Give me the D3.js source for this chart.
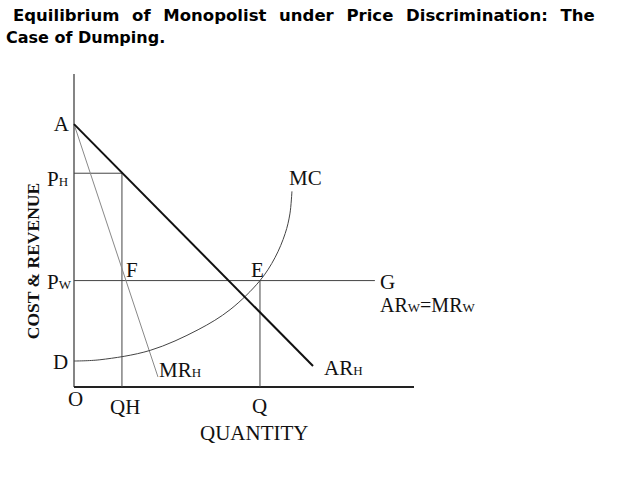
<!DOCTYPE html>
<html>
<head>
<meta charset="utf-8">
<script src="https://cdn.jsdelivr.net/npm/d3@7"></script>
<style>
  body { margin: 0; background: #fff; }
  svg { display: block; }
</style>
</head>
<body>
<script>
// valeurs (unités arbitraires 0..100)
const priceA = 84
const priceH = 68.3
const priceW = 34
const priceD = 8.3
const qtyH = 14.1
const qtyQ = 54.7
const qtyG = 88.5

const arH = [[0, 84], [70.3, 6.7]]
const mrH = [[0, 84], [24.7, 3.2]]
const mc = [[0, 8.3], [7.6, 8.7], [22.4, 11.7], [36.5, 18.3], [45.9, 24.7], [54.7, 34.0], [59.1, 41.3], [62.1, 49.0], [63.5, 55.3], [64.1, 62.5]]

const titleLines = ["Equilibrium of Monopolist under Price Discrimination: The", "Case of Dumping."]

const width = 638, height = 478

let svg = d3.select("body").append("svg")
    .attr("width", width)
    .attr("height", height)

const x = d3.scaleLinear().domain([0, 100]).range([74, 414])
const y = d3.scaleLinear().domain([0, 100]).range([387, 74])

// titre (ligne 1 justifiée -> espaces plus larges)
svg.append("text")
    .attr("font-family", "DejaVu Sans")
    .attr("font-weight", "bold")
    .attr("font-size", 16.5)
    .attr("x", 13).attr("y", 21)
    .attr("word-spacing", 7)
    .text(titleLines[0])
svg.append("text")
    .attr("font-family", "DejaVu Sans")
    .attr("font-weight", "bold")
    .attr("font-size", 16)
    .attr("x", 6).attr("y", 43)
    .text(titleLines[1])

const line = d3.line().x(d => x(d[0])).y(d => y(d[1]))

// axes (sans graduations)
svg.append("line")
    .attr("x1", x(0)).attr("x2", x(0))
    .attr("y1", y(100)).attr("y2", y(0))
    .attr("stroke", "#333").attr("stroke-width", 1.2)
svg.append("line")
    .attr("x1", x(0)).attr("x2", x(100))
    .attr("y1", y(0)).attr("y2", y(0))
    .attr("stroke", "#222").attr("stroke-width", 2)

// lignes de repère
const guides = [
    [[0, priceH], [qtyH, priceH]],
    [[qtyH, priceH], [qtyH, 0]],
    [[0, priceW], [qtyG, priceW]],
    [[qtyQ, priceW], [qtyQ, 0]]
]
svg.selectAll(".guide")
    .data(guides)
    .enter()
    .append("path")
    .attr("d", line)
    .attr("fill", "none")
    .attr("stroke", "#444")
    .attr("stroke-width", 1)

// MR_H
svg.append("path")
    .attr("d", line(mrH))
    .attr("fill", "none")
    .attr("stroke", "#888")
    .attr("stroke-width", 1)

// MC
svg.append("path")
    .attr("d", line.curve(d3.curveCatmullRom)(mc))
    .attr("fill", "none")
    .attr("stroke", "#444")
    .attr("stroke-width", 1)
line.curve(d3.curveLinear)

// AR_H
svg.append("path")
    .attr("d", line(arH))
    .attr("fill", "none")
    .attr("stroke", "#111")
    .attr("stroke-width", 2)

// étiquettes
const labels = [
    { t: "A", s: "", x: 69, y: 131, a: "end" },
    { t: "P", s: "H", x: 47, y: 186, a: "start" },
    { t: "P", s: "W", x: 47, y: 289, a: "start" },
    { t: "D", s: "", x: 53, y: 369, a: "start" },
    { t: "O", s: "", x: 68, y: 406, a: "start" },
    { t: "QH", s: "", x: 110, y: 414, a: "start" },
    { t: "Q", s: "", x: 252, y: 413, a: "start" },
    { t: "QUANTITY", s: "", x: 200, y: 440, a: "start" },
    { t: "F", s: "", x: 126, y: 277, a: "start" },
    { t: "E", s: "", x: 251, y: 277, a: "start" },
    { t: "MC", s: "", x: 289, y: 185, a: "start" },
    { t: "G", s: "", x: 380, y: 289, a: "start" },
    { t: "MR", s: "H", x: 159, y: 377, a: "start" },
    { t: "AR", s: "H", x: 324, y: 375, a: "start" }
]
let lab = svg.selectAll(".lab")
    .data(labels)
    .enter()
    .append("text")
    .attr("x", d => d.x)
    .attr("y", d => d.y)
    .attr("text-anchor", d => d.a)
    .attr("font-family", "Liberation Serif")
    .attr("font-size", 21)
    .attr("fill", "#111")
lab.append("tspan").text(d => d.t)
lab.append("tspan").attr("font-size", 13).text(d => d.s)

let arw = svg.append("text")
    .attr("x", 380).attr("y", 312)
    .attr("font-family", "Liberation Serif")
    .attr("font-size", 20)
    .attr("fill", "#111")
arw.append("tspan").text("AR")
arw.append("tspan").attr("font-size", 13).text("W")
arw.append("tspan").text("=MR")
arw.append("tspan").attr("font-size", 13).text("W")

svg.append("text")
    .attr("transform", "translate(39,261) rotate(-90)")
    .attr("text-anchor", "middle")
    .attr("font-family", "Liberation Serif")
    .attr("font-weight", "bold")
    .attr("font-size", 17.5)
    .attr("fill", "#111")
    .text("COST & REVENUE")
</script>
</body>
</html>
